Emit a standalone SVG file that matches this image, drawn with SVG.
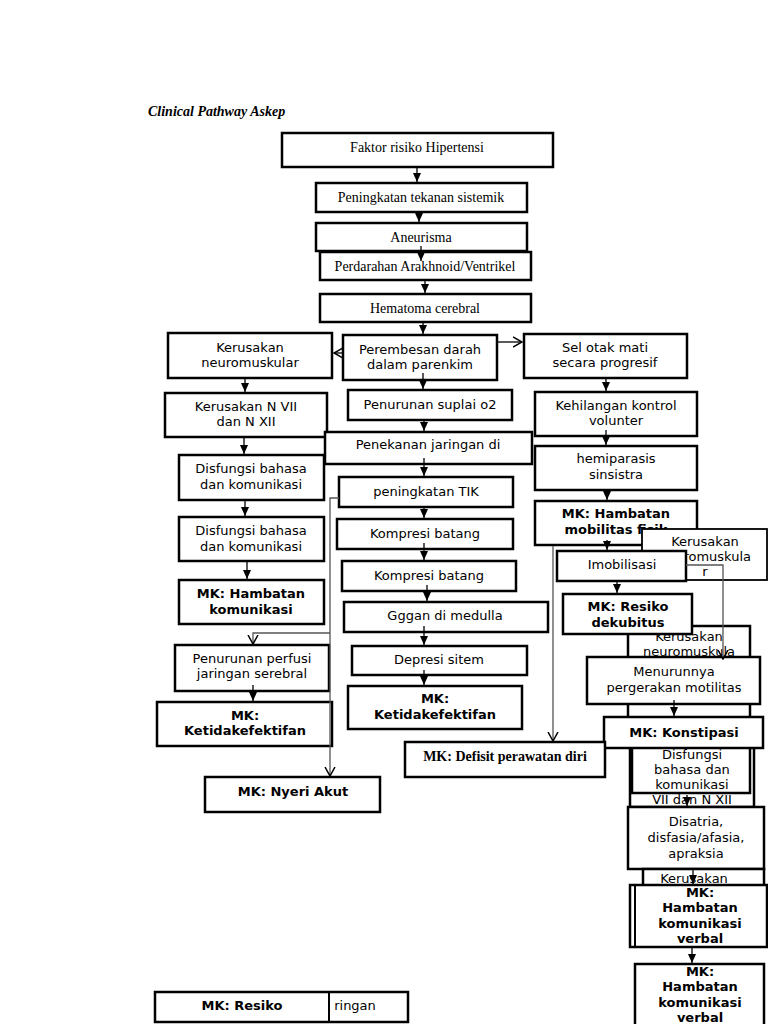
<svg xmlns="http://www.w3.org/2000/svg" width="768" height="1024" viewBox="0 0 768 1024">
<defs>
<marker id="a" markerWidth="10" markerHeight="10" refX="9" refY="5" orient="auto" markerUnits="userSpaceOnUse"><path d="M0,1 L9,5 L0,9 z" fill="#000"/></marker>
<marker id="v" markerWidth="10" markerHeight="12" refX="9" refY="6" orient="auto" markerUnits="userSpaceOnUse"><path d="M0,1 L9,6 L0,11" fill="none" stroke="#000" stroke-width="1.5"/></marker>
</defs>
<style>
rect{fill:#fff;stroke:#000;stroke-width:2.5}
.s{font-family:"Liberation Serif",serif;font-size:14px;text-anchor:middle}
.t{font-family:"DejaVu Sans",sans-serif;font-size:13px;text-anchor:middle}
.b{font-weight:bold}
.c line,.c path{stroke:#000;stroke-width:1.3;fill:none}
.g{stroke:#555 !important}
</style>
<rect x="0" y="0" width="768" height="1024" style="fill:#fff;stroke:none"/>
<text x="148" y="116" style="font-family:'Liberation Serif',serif;font-size:14px;font-weight:bold;font-style:italic">Clinical Pathway Askep</text>

<g id="n1"><rect x="282" y="133" width="271" height="34"/><text class="s" x="417" y="152">Faktor risiko Hipertensi</text></g>
<g id="n2"><rect x="316" y="183" width="211" height="29"/><text class="s" x="421" y="202">Peningkatan tekanan sistemik</text></g>
<g id="n3"><rect x="316" y="223" width="211" height="28"/><text class="s" x="421" y="242">Aneurisma</text></g>
<g id="n4"><rect x="320" y="252" width="211" height="28"/><text class="s" x="425" y="271">Perdarahan Arakhnoid/Ventrikel</text></g>
<g id="n5"><rect x="320" y="294" width="211" height="28"/><text class="s" x="425" y="313">Hematoma cerebral</text></g>

<g id="m1"><rect x="343" y="335" width="154" height="45"/><text class="t" x="420" y="354">Perembesan darah</text><text class="t" x="420" y="369">dalam parenkim</text></g>
<g id="m2"><rect x="348" y="390" width="164" height="30"/><text class="t" x="430" y="409">Penurunan suplai o2</text></g>
<g id="l1"><rect x="168" y="333" width="164" height="45"/><text class="t" x="250" y="352">Kerusakan</text><text class="t" x="250" y="367">neuromuskular</text></g>
<g id="l2"><rect x="165" y="393" width="162" height="44"/><text class="t" x="246" y="411">Kerusakan N VII</text><text class="t" x="246" y="426">dan N XII</text></g>
<g id="m3"><rect x="325" y="432" width="207" height="32"/><text class="t" x="428" y="449">Penekanan jaringan  di</text></g>
<g id="l3"><rect x="179" y="455" width="145" height="45"/><text class="t" x="251" y="473">Disfungsi bahasa</text><text class="t" x="251" y="489">dan komunikasi</text></g>
<g id="m4"><rect x="339" y="477" width="174" height="30"/><text class="t" x="426" y="496">peningkatan TIK</text></g>
<g id="m5"><rect x="337" y="519" width="176" height="30"/><text class="t" x="425" y="538">Kompresi batang</text></g>
<g id="l4"><rect x="179" y="517" width="145" height="44"/><text class="t" x="251" y="535">Disfungsi bahasa</text><text class="t" x="251" y="551">dan komunikasi</text></g>
<g id="m6"><rect x="342" y="561" width="174" height="30"/><text class="t" x="429" y="580">Kompresi batang</text></g>
<g id="l5"><rect x="179" y="580" width="145" height="44"/><text class="t b" x="251" y="598">MK: Hambatan</text><text class="t b" x="251" y="614">komunikasi</text></g>
<g id="m7"><rect x="344" y="602" width="204" height="30"/><text class="t" x="445" y="620">Gggan di medulla</text></g>
<g id="l6"><rect x="175" y="645" width="154" height="46"/><text class="t" x="252" y="663">Penurunan perfusi</text><text class="t" x="252" y="678">jaringan serebral</text></g>
<g id="m8"><rect x="352" y="646" width="175" height="29"/><text class="t" x="439" y="664">Depresi sitem</text></g>
<g id="m9"><rect x="348" y="686" width="174" height="43"/><text class="t b" x="435" y="703">MK:</text><text class="t b" x="435" y="719">Ketidakefektifan</text></g>
<g id="l7"><rect x="157" y="702" width="175" height="44"/><text class="t b" x="245" y="720">MK:</text><text class="t b" x="245" y="735">Ketidakefektifan</text></g>
<g id="l8"><rect x="205" y="777" width="175" height="35"/><text class="t b" x="293" y="796">MK: Nyeri Akut</text></g>
<g id="l9"><rect x="155" y="992" width="253" height="30"/><line x1="329" y1="992" x2="329" y2="1022" stroke="#000" stroke-width="2"/><text class="t b" x="242" y="1010">MK: Resiko</text><text class="t" x="355" y="1010">ringan</text></g>

<g id="r1"><rect x="524" y="334" width="163" height="44"/><text class="t" x="605" y="352">Sel otak mati</text><text class="t" x="605" y="367">secara progresif</text></g>
<g id="r2"><rect x="535" y="392" width="162" height="44"/><text class="t" x="616" y="410">Kehilangan kontrol</text><text class="t" x="616" y="425">volunter</text></g>
<g id="r3"><rect x="535" y="446" width="162" height="44"/><text class="t" x="616" y="463">hemiparasis</text><text class="t" x="616" y="479">sinsistra</text></g>
<g id="r4"><rect x="535" y="501" width="162" height="44"/><text class="t b" x="616" y="518">MK: Hambatan</text><text class="t b" x="616" y="534">mobilitas fisik</text></g>
<g id="r5"><rect x="642" y="529" width="125" height="51" style="stroke-width:1.8"/><text class="t" x="705" y="546">Kerusakan</text><text class="t" x="705" y="561">neuromuskula</text><text class="t" x="705" y="576">r</text></g>
<g id="r6"><rect x="557" y="551" width="129" height="30"/><text class="t" x="622" y="569">Imobilisasi</text></g>
<g id="r7b"><rect x="628" y="626" width="122" height="120"/><text class="t" x="689" y="641">Kerusakan</text><text class="t" x="689" y="656">neuromuskula</text></g>
<g id="r7"><rect x="563" y="594" width="129" height="40"/><text class="t b" x="628" y="611">MK: Resiko</text><text class="t b" x="628" y="627">dekubitus</text></g>
<g id="r8"><rect x="587" y="657" width="173" height="47"/><text class="t" x="674" y="676">Menurunnya</text><text class="t" x="674" y="692">pergerakan motilitas</text></g>
<g id="r9b"><rect x="630" y="745" width="124" height="62"/><text class="t" x="692" y="804">VII dan N XII</text></g>
<g id="r9"><rect x="632" y="745" width="118" height="48"/><text class="t" x="692" y="759">Disfungsi</text><text class="t" x="692" y="774">bahasa dan</text><text class="t" x="692" y="789">komunikasi</text></g>
<g id="r10"><rect x="604" y="717" width="159" height="31"/><text class="t b" x="684" y="737">MK: Konstipasi</text></g>
<g id="d1"><rect x="405" y="742" width="200" height="35"/><text class="s b" x="505" y="761">MK: Defisit perawatan diri</text></g>
<g id="r11"><rect x="628" y="807" width="136" height="62"/><text class="t" x="696" y="826">Disatria,</text><text class="t" x="696" y="842">disfasia/afasia,</text><text class="t" x="696" y="858">apraksia</text></g>
<g id="r12b"><rect x="643" y="869" width="121" height="20"/><text class="t" x="694" y="883">Kerusakan</text></g>
<g id="r12"><rect x="630" y="885" width="137" height="62"/><line x1="635" y1="885" x2="635" y2="947" stroke="#000" stroke-width="2"/><text class="t b" x="700" y="897">MK:</text><text class="t b" x="700" y="912">Hambatan</text><text class="t b" x="700" y="928">komunikasi</text><text class="t b" x="700" y="943">verbal</text></g>
<g id="r13"><rect x="635" y="964" width="129" height="62"/><text class="t b" x="700" y="976">MK:</text><text class="t b" x="700" y="991">Hambatan</text><text class="t b" x="700" y="1007">komunikasi</text><text class="t b" x="700" y="1022">verbal</text></g>

<g class="c">
<line x1="417" y1="168" x2="417" y2="182" marker-end="url(#a)"/>
<line x1="419" y1="213" x2="419" y2="222" marker-end="url(#a)"/>
<line x1="421" y1="246" x2="421" y2="261" marker-end="url(#a)"/>
<line x1="425" y1="281" x2="425" y2="293" marker-end="url(#a)"/>
<line x1="423" y1="323" x2="423" y2="334" marker-end="url(#a)"/>
<path d="M343,353 H334" marker-end="url(#v)"/>
<path d="M497,342 H522" marker-end="url(#v)"/>
<line x1="423" y1="373" x2="423" y2="389" marker-end="url(#a)"/>
<line x1="424" y1="421" x2="424" y2="431" marker-end="url(#a)"/>
<line x1="424" y1="458" x2="424" y2="476" marker-end="url(#a)"/>
<line x1="424" y1="508" x2="424" y2="518" marker-end="url(#a)"/>
<line x1="424" y1="543" x2="424" y2="560" marker-end="url(#a)"/>
<line x1="427" y1="585" x2="427" y2="601" marker-end="url(#a)"/>
<line x1="424" y1="626" x2="424" y2="645" marker-end="url(#a)"/>
<line x1="424" y1="670" x2="424" y2="685" marker-end="url(#a)"/>
<line x1="245" y1="379" x2="245" y2="392" marker-end="url(#a)"/>
<line x1="244" y1="438" x2="244" y2="454" marker-end="url(#a)"/>
<line x1="245" y1="501" x2="245" y2="516" marker-end="url(#a)"/>
<line x1="247" y1="562" x2="247" y2="579" marker-end="url(#a)"/>
<line x1="253" y1="685" x2="253" y2="701" marker-end="url(#a)"/>
<path class="g" d="M339,498 H330 V776" marker-end="url(#v)"/>
<path class="g" d="M330,633 H253 V644" marker-end="url(#v)"/>
<line x1="606" y1="379" x2="606" y2="391" marker-end="url(#a)"/>
<line x1="606" y1="430" x2="606" y2="445" marker-end="url(#a)"/>
<line x1="607" y1="491" x2="607" y2="500" marker-end="url(#a)"/>
<line x1="607" y1="540" x2="607" y2="550" marker-end="url(#a)"/>
<line x1="617" y1="582" x2="617" y2="593" marker-end="url(#a)"/>
<path class="g" d="M553,546 V741" marker-end="url(#v)"/>
<path class="g" d="M686,565 H723 V659" marker-end="url(#v)"/>
<line x1="674" y1="700" x2="674" y2="716" marker-end="url(#a)"/>
<line x1="687" y1="795" x2="687" y2="806" marker-end="url(#a)"/>
<line x1="693" y1="870" x2="693" y2="884" marker-end="url(#a)"/>
<line x1="692" y1="948" x2="692" y2="963" marker-end="url(#a)"/>
</g>
</svg>
